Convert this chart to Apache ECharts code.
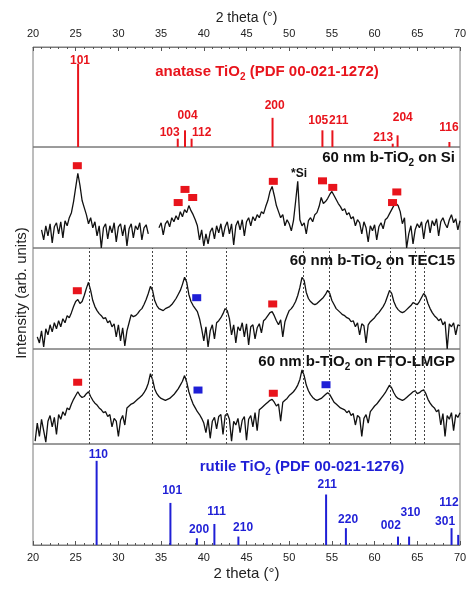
<!DOCTYPE html>
<html lang="en">
<head>
    <meta charset="UTF-8">
    <title>XRD b-TiO2</title>
    <script src="https://cdn.jsdelivr.net/npm/echarts@6.0.0/dist/echarts.min.js"></script>
</head>
<style>
    body{
        margin: 0;
        padding: 0;
        background: #fff;
    }
</style>
<body>
<div id="main" style="width: 474px;height:592px;"></div>
<script>
    // scans: one value every 0.25 deg from 20 to 70 (null = no data)
    var scanStart = 20, scanStep = 0.25;

    var siScan = [
        null,null,null,null, 18,8,22,12, 24,5,21,25, 14,26,10,27, 22,30,35,46,
        60,74,62,47, 40,33,24,30, 20,26,12,22, 0,20,24,9, 22,15,25,6,
        21,24,12,23, 2,19,24,10, 22,18,25,8, 20,23,14,null, null,18,null,20,
        25,13,24,27, 21,30,26,32, 28,36,31,38, 35,42,37,33, 28,22,8,18,
        2,14,4,16, 20,9,22,15, 24,11,21,26, 14,24,3,22, 27,18,28,12,
        26,30,22,31, 27,33,30,36, 34,41,47,56, 61,52,42,36, 30,33,22,28,
        24,17,27,46, 66,28,22,25, 14,27,30,26, 33,35,41,50, 44,46,49,53,
        56,52,48,44, 41,37,39,33, 35,29,31,22, 28,25,14,26, 20,6,22,17,
        23,8,21,25, 19,28,30,34, 38,42,44,42, 36,24,30,0, 14,22,4,18,
        24,20,26,9, 24,28,15,27, 22,29,12,26, 30,24,20,28, 33,25,29,18,
        27
    ];
    var tecScan = [
        null,null,12,6, 18,2,20,14, 24,17,26,20, 28,22,30,26, 33,31,36,42,
        47,49,45,47, 53,60,66,58, 48,42,38,35, 33,30,31,26, 28,22,25,12,
        24,8,21,3, 18,26,34,32, 33,35,38,40, 44,49,55,62, 58,48,43,40,
        39,38,40,41, 42,44,47,50, 54,58,64,71, 66,54,47,43, 40,37,30,20,
        8,22,2,18, 24,10,26,28, 31,35,40,38, 30,14,24,6, 22,18,26,12,
        25,4,22,24, 10,21,25,16, 28,30,33,36, 37,33,28,24, 29,12,27,33,
        38,40,43,47, 53,61,71,68, 56,50,47,45, 44,45,47,49, 51,54,58,55,
        48,44,40,38, 36,34,33,31, 30,27,28,22, 26,14,25,23, 6,24,27,29,
        31,34,36,39, 42,46,52,58, 55,47,42,39, 37,36,37,39, 41,43,46,45,
        44,47,51,55, 52,45,40,36, 33,31,28,30, 24,27,0,25, 22,26,14,24,
        23
    ];
    var ftoScan = [
        null,3,22,8, 26,14,2,24, 30,18,28,10, 31,26,34,30, 38,36,42,47,
        51,55,51,49, 50,53,55,50, 46,43,41,38, 36,33,34,29, 31,18,27,24,
        8,25,30,20, 38,40,42,43, 45,47,49,51, 54,58,64,74, 68,58,53,50,
        48,47,46,47, 48,50,52,55, 58,62,66,72, 65,55,48,42, 38,34,31,27,
        22,12,26,6, 24,28,16,29, 31,10,30,32, 26,3,24,20, 27,12,25,29,
        4,26,30,18, 33,14,36,38, 40,42,44,46, 47,44,40,42, 24,44,46,48,
        51,53,55,58, 62,68,78,72, 62,56,52,49, 47,46,47,48, 50,52,54,52,
        48,44,42,40, 38,37,36,33, 35,30,32,20, 30,28,8,27, 31,22,34,37,
        40,42,45,48, 51,54,58,62, 59,54,50,48, 47,46,47,49, 51,53,55,56,
        53,54,56,57, 53,47,43,40, 38,34,36,20, 32,8,30,26, 33,14,31,28,
        33
    ];

    // reference cards
    var anataseAngle = [25.28, 36.95, 37.80, 38.57, 48.05, 53.89, 55.06, 62.12, 62.69, 68.76];
    var anataseInt = [100, 10, 20, 10, 35, 20, 20, 4, 14, 6];
    var anataseHkl = ['101', '103', '004', '112', '200', '105', '211', '213', '204', '116'];
    var anataseLabelX = [25.5, 36.0, 38.1, 39.75, 48.3, 53.4, 55.8, 61.0, 63.3, 68.7];
    var anataseLabelY = [104, 17, 38, 17, 50, 31, 31, 11, 35, 23];

    var rutileAngle = [27.45, 36.09, 39.19, 41.24, 44.05, 54.32, 56.64, 62.74, 64.04, 69.01, 69.79];
    var rutileInt = [100, 50, 8, 25, 10, 60, 20, 10, 10, 20, 12];
    var rutileHkl = ['110', '101', '200', '111', '210', '211', '220', '002', '310', '301', '112'];
    var rutileLabelX = [27.65, 36.3, 39.45, 41.5, 44.6, 54.45, 56.9, 61.9, 64.2, 68.25, 68.7];
    var rutileLabelY = [107, 64, 18, 40, 21, 72, 30, 23, 38, 28, 50];

    // SnO2 substrate peaks (dotted lines)
    var snO2Angle = [26.59, 33.93, 37.92, 42.68, 51.65, 54.70, 61.89, 64.77, 65.87];

    // phase markers
    var siAnataseX = [25.19, 37.8, 37.0, 38.7, 48.14, 53.9, 55.1, 62.6, 62.1];
    var siAnataseY = [81.5, 58, 45, 50, 66, 66.5, 60, 55.5, 45];
    var tecAnataseX = [25.19, 48.07];
    var tecAnataseY = [57.7, 44.6];
    var tecRutileX = [39.17];
    var tecRutileY = [50.8];
    var ftoAnataseX = [25.23, 48.14];
    var ftoAnataseY = [65, 53.4];
    var ftoRutileX = [39.32, 54.31];
    var ftoRutileY = [56.8, 62.4];

    var RED = '#e8141c', BLUE = '#1f1fd6', FONT = 'Liberation Sans, Arial, sans-serif';

    function scanPairs(arr) {
        return arr.map(function (v, i) {
            return [scanStart + i * scanStep, v === null ? '-' : v];
        });
    }
    function zip(xs, ys) {
        return xs.map(function (x, i) { return [x, ys[i]]; });
    }
    function labelData(xs, ys, names) {
        return xs.map(function (x, i) { return {value: [x, ys[i]], name: names[i]}; });
    }
    function labelSeries(idx, data, color) {
        return {
            type: 'scatter', xAxisIndex: idx, yAxisIndex: idx, silent: true,
            symbolSize: 0, itemStyle: {color: 'transparent', opacity: 1},
            label: {show: true, position: 'inside', formatter: '{b}', color: color, opacity: 1,
                fontSize: 12, fontWeight: 'bold', fontFamily: FONT},
            data: data
        };
    }
    function markerSeries(idx, xs, ys, color) {
        return {
            type: 'scatter', xAxisIndex: idx, yAxisIndex: idx, silent: true, z: 5,
            symbol: 'rect', symbolSize: [9, 7], itemStyle: {color: color, opacity: 1},
            data: zip(xs, ys)
        };
    }
    function scanSeries(idx, arr, withLines) {
        var s = {
            type: 'line', xAxisIndex: idx, yAxisIndex: idx, silent: true,
            showSymbol: false, symbol: 'none', connectNulls: false,
            lineStyle: {color: '#111', width: 1.3},
            data: scanPairs(arr)
        };
        if (withLines) {
            s.markLine = {
                silent: true, symbol: ['none', 'none'], label: {show: false},
                lineStyle: {type: [2, 2], color: '#444', width: 1},
                data: snO2Angle.map(function (x) { return {xAxis: x}; })
            };
        }
        return s;
    }
    function stickSeries(idx, xs, ys, color) {
        return {
            type: 'bar', xAxisIndex: idx, yAxisIndex: idx, silent: true,
            barWidth: 2, itemStyle: {color: color},
            data: zip(xs, ys)
        };
    }

    var tops = [47, 147, 248, 349, 444];
    var heights = [100, 101, 101, 95, 101];
    var ymax = [120, 100, 100, 100, 120];

    var grids = [], xAxes = [], yAxes = [];
    for (var i = 0; i < 5; i++) {
        var edge = (i === 0 || i === 4);
        grids.push({left: 33, right: 14, top: tops[i], height: heights[i],
            show: true, borderColor: '#7a7a7a', borderWidth: 1});
        xAxes.push({
            gridIndex: i, type: 'value', min: 20, max: 70, interval: 5,
            show: edge,
            position: i === 0 ? 'top' : 'bottom',
            axisLine: {show: edge, onZero: false, lineStyle: {color: '#7a7a7a'}},
            axisTick: {show: edge, inside: true, length: 4, lineStyle: {color: '#555'}},
            minorTick: {show: edge, splitNumber: 5, length: 2, lineStyle: {color: '#555'}},
            axisLabel: {show: edge, fontSize: 11, color: '#222', fontFamily: FONT, margin: i === 0 ? 8 : 7},
            splitLine: {show: false},
            name: edge ? '2 theta (°)' : '',
            nameLocation: 'middle',
            nameGap: i === 0 ? 22 : 21,
            nameTextStyle: {fontSize: i === 0 ? 14 : 15, color: '#222', fontFamily: FONT}
        });
        yAxes.push({gridIndex: i, type: 'value', min: 0, max: ymax[i], show: false,
            axisLine: {onZero: false}});
    }

    function titleText(x, y, pre, post, color, align) {
        return {
            type: 'text', x: x, y: y, silent: true,
            style: {
                text: '{m|' + pre + '}{s|2}{m|' + post + '}',
                align: align, verticalAlign: 'middle',
                rich: {
                    m: {fill: color, fontSize: 15, fontWeight: 'bold', fontFamily: FONT, lineHeight: 20},
                    s: {fill: color, fontSize: 10, fontWeight: 'bold', fontFamily: FONT, lineHeight: 10, verticalAlign: 'bottom'}
                }
            }
        };
    }

    var chart = echarts.init(document.getElementById('main'));
    var option = {
        animation: false,
        textStyle: {fontFamily: FONT},
        grid: grids,
        xAxis: xAxes,
        yAxis: yAxes,
        graphic: [
            titleText(267, 72, 'anatase TiO', ' (PDF 00-021-1272)', RED, 'center'),
            titleText(455, 158, '60 nm b-TiO', ' on Si', '#111', 'right'),
            titleText(455, 261, '60 nm b-TiO', ' on TEC15', '#111', 'right'),
            titleText(455, 362, '60 nm b-TiO', ' on FTO-LMGP', '#111', 'right'),
            titleText(302, 467, 'rutile TiO', ' (PDF 00-021-1276)', BLUE, 'center'),
            {
                type: 'text', x: 22, y: 293, rotation: Math.PI / 2, silent: true,
                style: {text: 'Intensity (arb. units)', fill: '#222', fontSize: 15, fontFamily: FONT,
                    align: 'center', verticalAlign: 'middle'}
            }
        ],
        series: [
            stickSeries(0, anataseAngle, anataseInt, RED),
            labelSeries(0, labelData(anataseLabelX, anataseLabelY, anataseHkl), RED),

            scanSeries(1, siScan, false),
            markerSeries(1, siAnataseX, siAnataseY, RED),
            labelSeries(1, [{value: [51.15, 74], name: '*Si'}], '#111'),

            scanSeries(2, tecScan, true),
            markerSeries(2, tecAnataseX, tecAnataseY, RED),
            markerSeries(2, tecRutileX, tecRutileY, BLUE),

            scanSeries(3, ftoScan, true),
            markerSeries(3, ftoAnataseX, ftoAnataseY, RED),
            markerSeries(3, ftoRutileX, ftoRutileY, BLUE),

            stickSeries(4, rutileAngle, rutileInt, BLUE),
            labelSeries(4, labelData(rutileLabelX, rutileLabelY, rutileHkl), BLUE)
        ]
    };
    chart.setOption(option);
</script>
</body>
</html>
